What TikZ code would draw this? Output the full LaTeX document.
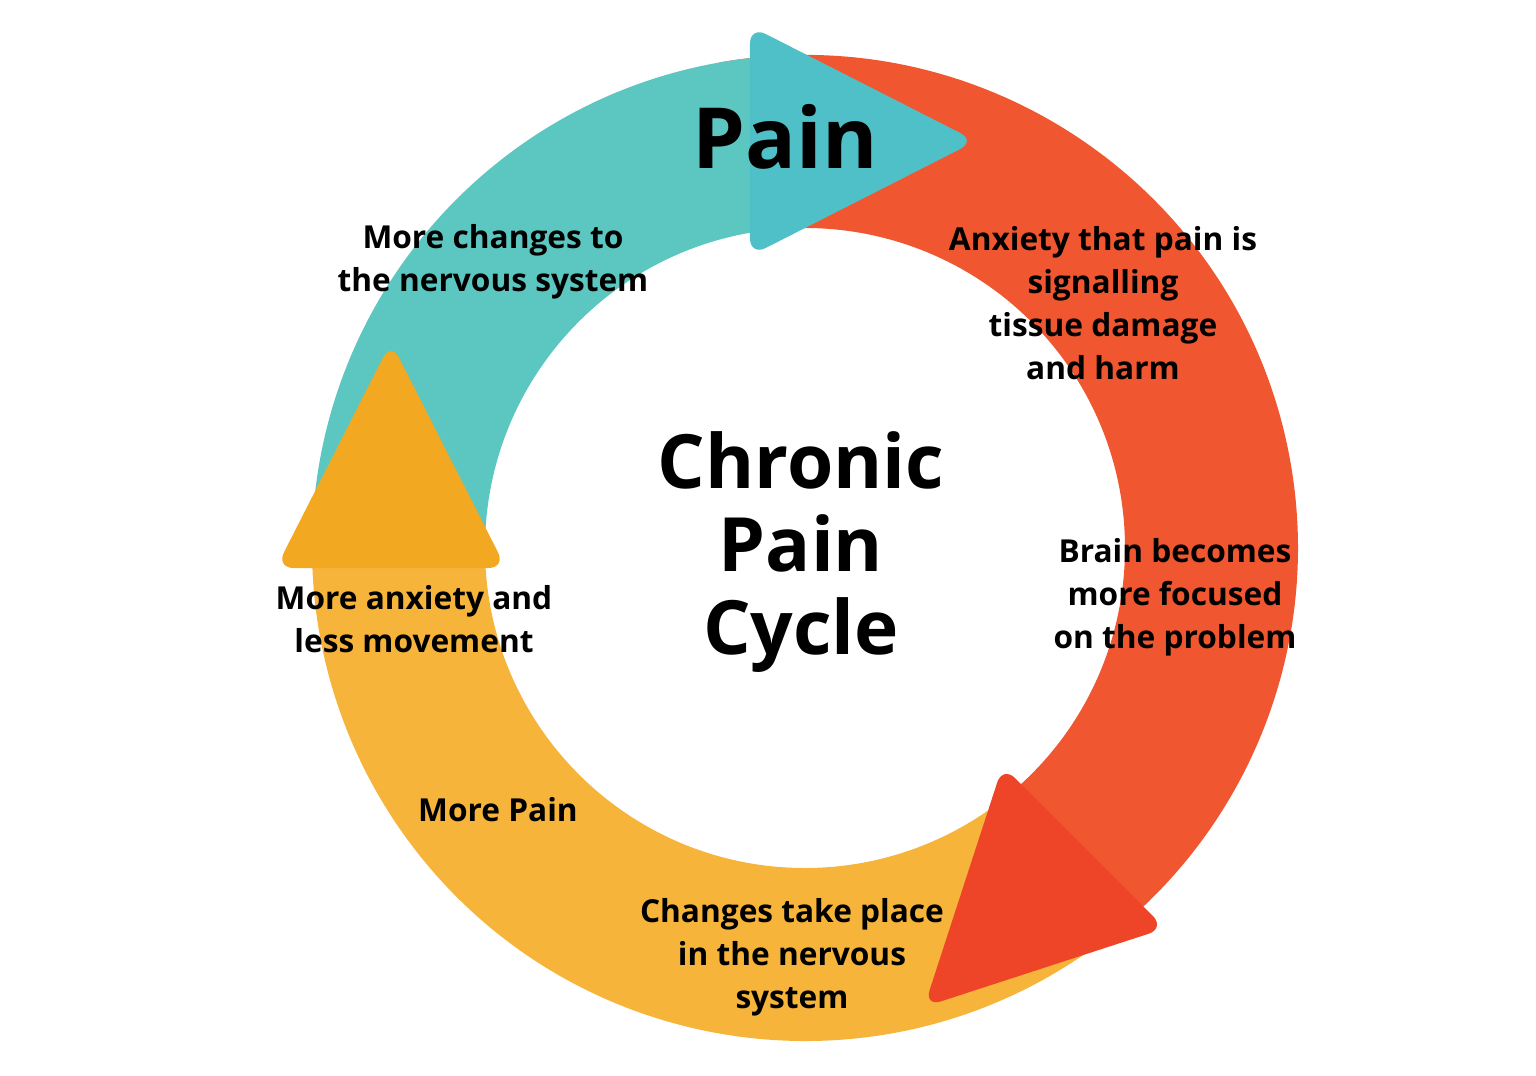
\documentclass[tikz,border=0pt]{standalone}
\usepackage{fontspec}
\setmainfont{Open Sans}
\definecolor{tealband}{HTML}{5CC7C1}
\definecolor{tealhead}{HTML}{4FC0C7}
\definecolor{orangeband}{HTML}{F0562F}
\definecolor{redhead}{HTML}{EE4427}
\definecolor{yellowband}{HTML}{F6B43A}
\definecolor{yellowhead}{HTML}{F2A820}
\tikzset{cycletext/.style={font=\bfseries\fontsize{9}{12.2}\selectfont,align=center,text=black}}

\begin{document}
\begin{tikzpicture}[x=.01cm,y=.01cm]
\useasboundingbox (-805,-527) rectangle (731,548);
\foreach \c/\a/\b in {orangeband/100/-50,yellowband/-52/-180,tealband/178/95}{
 \fill[\c] (\a:493) arc[start angle=\a,end angle=\b,radius=493] -- (\b:320)
  arc[start angle=\b,end angle=\a,radius=320] -- cycle;
}
\foreach \c/\x/\y/\r in {tealhead/-55/407/0,redhead/279/-299/-135,yellowhead/-414/-20/90}{
 \fill[\c,rounded corners=5pt,shift={(\x,\y)},rotate=\r] (0,-115) -- (226,0) -- (0,115) -- cycle;
}
\node[font=\bfseries\fontsize{24}{30}\selectfont,anchor=base] (pain) at (-20,380) {Pain};
\node[font=\bfseries\fontsize{21.3}{23.6}\selectfont,align=center] (title) at (-4,-4) {Chronic\\Pain\\Cycle};
\node[cycletext] (nerves) at (-312,286) {More changes to\\the nervous system};
\node[cycletext] (harm) at (298,245) {Anxiety that pain is\\signalling\\tissue damage\\and harm};
\node[cycletext] (focus) at (370,-49) {Brain becomes\\more focused\\on the problem};
\node[cycletext] (change) at (-13,-409) {Changes take place\\in the nervous\\system};
\node[cycletext] (morepain) at (-307,-262) {More Pain};
\node[cycletext] (avoid) at (-391,-71) {More anxiety and\\less movement};
\end{tikzpicture}
\end{document}
